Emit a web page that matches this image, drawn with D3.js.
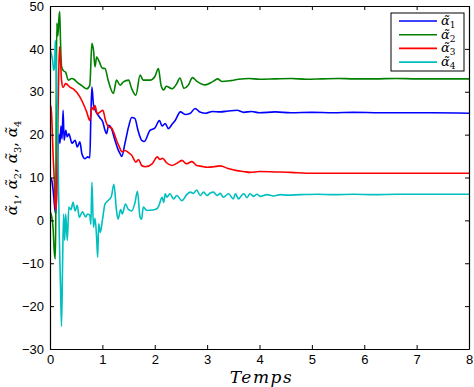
<!DOCTYPE html>
<html>
<head>
<meta charset="utf-8">
<script src="https://cdn.jsdelivr.net/npm/d3@7"></script>
<style>
body { margin: 0; background: #fff; }
</style>
</head>
<body>
<div id="graph"></div>
<script>
const w = 474;
const h = 387;

const margin = {
    right: 5,
    left: 50,
    top: 6,
    bottom: 38
};

// data, [temps, valeur]
const alpha1 = [[0,10],[0.03,9.5],[0.06,7],[0.09,3],[0.11,1.5],[0.13,8],[0.15,16.3],[0.17,20],[0.19,18],[0.21,22],
    [0.23,19],[0.25,25.7],[0.27,18.7],[0.3,21],[0.33,19.5],[0.36,20.2],[0.42,18],[0.48,18.7],[0.52,17.1],[0.57,18.3],
    [0.61,15.5],[0.67,14.4],[0.72,14.8],[0.76,14.6],[0.78,24],[0.8,31.1],[0.83,27],[0.88,25.3],[0.95,24],[1.01,22.9],
    [1.05,21],[1.08,20.2],[1.12,22.2],[1.17,21.5],[1.24,18.7],[1.3,16.5],[1.34,15.5],[1.37,14.9],[1.43,17.9],[1.5,21.8],
    [1.56,24],[1.62,23.8],[1.68,21],[1.75,18.7],[1.8,18.4],[1.91,21],[2.0,21.5],[2.09,23.3],[2.14,22],[2.2,22.6],
    [2.26,21.4],[2.33,22.4],[2.39,23.3],[2.49,25.3],[2.58,24.7],[2.68,25],[2.77,26.1],[2.86,25.3],[2.98,25],[3.1,25.4],
    [3.25,25.3],[3.4,25.5],[3.57,25.7],[3.7,25.2],[3.85,25.4],[4.0,25.1],[4.3,25.3],[4.6,25.1],[5.0,25.2],[5.4,25.1],
    [5.8,25.2],[6.3,25.1],[6.8,25.1],[7.3,25.1],[8.0,25.0]];

const alpha2 = [[0,2],[0.03,1],[0.06,-2],[0.08,-7],[0.1,-9],[0.11,0],[0.12,30],[0.13,46],[0.15,43],[0.17,47],
    [0.185,48.7],[0.2,42],[0.22,36],[0.25,35],[0.3,34.5],[0.35,32.7],[0.41,33.1],[0.47,32.8],[0.51,32.3],[0.6,31.5],
    [0.7,30.7],[0.76,31.5],[0.8,41.3],[0.83,39.7],[0.86,35.8],[0.89,38.1],[0.94,37],[1.0,35.5],[1.05,35.4],[1.11,32.7],
    [1.21,29.6],[1.27,32.7],[1.34,31.5],[1.4,32.3],[1.5,32.7],[1.56,30.7],[1.64,29.2],[1.72,33.9],[1.78,32.7],[1.91,32.7],
    [2.0,33.5],[2.07,35.4],[2.12,31.5],[2.17,30.4],[2.22,31.3],[2.33,30.7],[2.42,31.9],[2.48,33.2],[2.56,30.8],[2.64,31.5],
    [2.72,33.3],[2.8,32.5],[2.96,31.6],[3.1,32.3],[3.2,33.0],[3.28,32.4],[3.45,32.6],[3.6,32.9],[3.8,33.1],[4.0,32.9],
    [4.3,33.0],[4.6,33.1],[4.9,32.9],[5.2,33.0],[5.5,33.1],[5.8,33.0],[6.2,33.0],[6.6,33.1],[7.0,33.0],[7.5,33.0],[8.0,33.0]];

const alpha3 = [[0,26.4],[0.02,26.7],[0.04,22],[0.06,15],[0.08,10],[0.1,3.5],[0.12,2.5],[0.14,15],[0.16,30],[0.18,40.5],
    [0.2,37.4],[0.22,32.7],[0.25,31],[0.3,31.9],[0.38,31.1],[0.45,30.6],[0.57,28.8],[0.65,26.8],[0.7,25.3],[0.76,23.3],
    [0.8,26.4],[0.83,25.8],[0.86,26.8],[0.9,24.9],[0.96,25.3],[1.01,25.7],[1.06,23.3],[1.12,21.8],[1.17,21.6],[1.27,18.7],
    [1.34,16.7],[1.37,16],[1.43,16.3],[1.5,15.8],[1.56,15.2],[1.64,13.6],[1.69,14.2],[1.75,12.8],[1.82,12.5],[1.95,13.2],
    [2.05,14.8],[2.1,14.2],[2.15,14.5],[2.22,13.5],[2.33,12.8],[2.42,13.3],[2.52,14.0],[2.6,13.2],[2.71,13.7],[2.8,12.8],
    [2.9,12.6],[3.0,12.4],[3.12,12.5],[3.25,12.7],[3.4,12.1],[3.57,11.6],[3.7,11.4],[3.82,11.2],[4.0,11.4],[4.3,11.3],
    [4.6,11.2],[4.9,11.0],[5.2,11.0],[5.6,11.0],[6.0,11.0],[6.5,11.0],[7.0,11.0],[7.5,11.0],[8.0,11.0]];

const alpha4 = [[0,40],[0.02,39],[0.05,37.4],[0.07,35],[0.09,36],[0.1,42],[0.12,35],[0.14,25],[0.16,10],[0.18,-5],
    [0.2,-15],[0.22,-24.7],[0.24,-10.2],[0.26,1.5],[0.28,-4.7],[0.3,1.5],[0.33,-4.7],[0.36,3.1],[0.4,2.5],[0.44,4.2],
    [0.48,2.2],[0.52,3.5],[0.56,0.7],[0.62,2],[0.68,0.8],[0.72,1.5],[0.76,1.2],[0.78,-0.9],[0.8,8.9],[0.83,-1.6],
    [0.86,0.5],[0.89,-4],[0.91,-8.6],[0.93,-0.8],[0.96,-2.8],[1.0,0],[1.05,3.8],[1.1,4.5],[1.17,5.5],[1.22,8.4],
    [1.27,2.3],[1.3,0.3],[1.35,2.5],[1.38,1.5],[1.44,3.8],[1.5,2.5],[1.56,2.2],[1.62,4],[1.67,6.8],[1.72,0.7],
    [1.75,0.3],[1.78,3.1],[1.85,2.3],[1.95,2.4],[2.04,2.7],[2.08,3.5],[2.14,5.4],[2.17,4.2],[2.2,6.2],[2.23,5.4],
    [2.29,6.2],[2.36,5.0],[2.42,5.8],[2.52,4.6],[2.61,6.0],[2.68,6.6],[2.74,6.3],[2.8,7.1],[2.87,5.8],[2.93,6.6],
    [3.0,5.8],[3.06,6.4],[3.12,6.6],[3.19,5.8],[3.25,6.3],[3.31,5.4],[3.41,6.2],[3.5,5.0],[3.54,6.2],[3.6,5.0],
    [3.63,5.4],[3.7,6.2],[3.76,5.3],[3.82,6.2],[3.89,5.6],[3.95,6.1],[4.02,5.6],[4.14,6.0],[4.27,5.7],[4.4,6.0],
    [4.52,5.9],[4.78,6.0],[5.1,6.1],[5.42,6.0],[5.8,6.1],[6.2,6.0],[6.6,6.1],[7.0,6.1],[7.5,6.1],[8.0,6.1]];

const xTicks = [0, 1, 2, 3, 4, 5, 6, 7, 8];
const yTicks = [-30, -20, -10, 0, 10, 20, 30, 40, 50];
const legendLabels = ["1", "2", "3", "4"];

const series = [
    {values: alpha1, color: "#0000ff"},
    {values: alpha2, color: "#008000"},
    {values: alpha3, color: "#ff0000"},
    {values: alpha4, color: "#00bfbf"}
];

const svg = d3.select("#graph")
    .append("svg")
    .attr("width", w)
    .attr("height", h);

const x = d3.scaleLinear()
    .domain([0, 8])
    .range([margin.left, w - margin.right]);

const y = d3.scaleLinear()
    .domain([-30, 50])
    .range([h - margin.bottom, margin.top]);

svg.append("clipPath")
    .attr("id", "clip")
    .append("rect")
    .attr("x", margin.left)
    .attr("y", margin.top)
    .attr("width", w - margin.left - margin.right)
    .attr("height", h - margin.top - margin.bottom);

const line = d3.line()
    .x(d => x(d[0]))
    .y(d => y(d[1]))
    .curve(d3.curveMonotoneX);

svg.append("g")
    .attr("clip-path", "url(#clip)")
    .selectAll("path")
    .data(series)
    .enter()
    .append("path")
    .attr("d", d => line(d.values))
    .attr("fill", "none")
    .attr("stroke", d => d.color)
    .attr("stroke-width", 1.6)
    .attr("stroke-linejoin", "round");

// axes, matlab style box with inward ticks
let styleAxis = function(g) {
    g.selectAll(".domain").attr("stroke", "#000").attr("stroke-width", 1.2);
    g.selectAll(".tick line").attr("stroke", "#000");
    g.selectAll("text")
        .attr("fill", "#000")
        .style("font-family", "'Liberation Sans', Arial, sans-serif")
        .style("font-size", "13px");
};

svg.append("g")
    .attr("transform", "translate(0," + y(-30) + ")")
    .call(d3.axisBottom(x).tickValues(xTicks).tickSize(-4).tickSizeOuter(0).tickPadding(6))
    .call(styleAxis);

svg.append("g")
    .attr("transform", "translate(0," + y(50) + ")")
    .call(d3.axisTop(x).tickValues(xTicks).tickSize(-4).tickSizeOuter(0).tickFormat(""))
    .call(styleAxis);

svg.append("g")
    .attr("transform", "translate(" + x(0) + ",0)")
    .call(d3.axisLeft(y).tickValues(yTicks).tickSize(-4).tickSizeOuter(0).tickPadding(6))
    .call(styleAxis);

svg.append("g")
    .attr("transform", "translate(" + x(8) + ",0)")
    .call(d3.axisRight(y).tickValues(yTicks).tickSize(-4).tickSizeOuter(0).tickFormat(""))
    .call(styleAxis);

// x label
svg.append("text")
    .attr("x", (x(0) + x(8)) / 2 + 2)
    .attr("y", 383)
    .attr("text-anchor", "middle")
    .style("font-family", "'DejaVu Serif', serif")
    .style("font-style", "italic")
    .style("font-size", "17px")
    .style("letter-spacing", "1.5px")
    .text("Temps");

// y label
const ylab = svg.append("text")
    .attr("transform", "translate(17," + 168 + ") rotate(-90)")
    .attr("text-anchor", "middle")
    .style("font-family", "'DejaVu Serif', serif")
    .style("font-size", "15px");

legendLabels.forEach(function(s, i) {
    ylab.append("tspan").style("font-style", "italic").text("\u03b1\u0303");
    ylab.append("tspan").attr("dy", 4).style("font-size", "10px").text(s);
    ylab.append("tspan").attr("dy", -4).text(i < 3 ? ", " : "");
});

// legend
const legend = svg.append("g");

legend.append("rect")
    .attr("x", 391)
    .attr("y", 13)
    .attr("width", 73)
    .attr("height", 58)
    .attr("fill", "#fff")
    .attr("stroke", "#000")
    .attr("stroke-width", 1);

let items = legend.selectAll(".item")
    .data(series)
    .enter()
    .append("g")
    .attr("class", "item")
    .attr("transform", (d, i) => "translate(0," + (21 + i * 13.7) + ")");

items.append("line")
    .attr("x1", 399)
    .attr("x2", 437)
    .attr("stroke", d => d.color)
    .attr("stroke-width", 1.6);

let ltext = items.append("text")
    .attr("x", 441)
    .attr("y", 4)
    .style("font-family", "'DejaVu Serif', serif")
    .style("font-size", "13px");

ltext.append("tspan").style("font-style", "italic").text("\u03b1\u0303");
ltext.append("tspan").attr("dy", 3).style("font-size", "9px").text((d, i) => legendLabels[i]);
</script>
</body>
</html>
